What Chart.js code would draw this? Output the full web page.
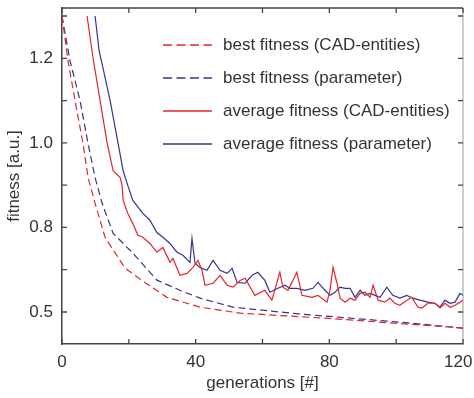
<!DOCTYPE html>
<html>
<head>
<meta charset="utf-8">
<script src="https://cdn.jsdelivr.net/npm/chart.js@4"></script>
<style>
  html, body { margin: 0; padding: 0; background: #fff; }
  #wrap { width: 474px; height: 398px; }
</style>
</head>
<body>
<div id="wrap"><canvas id="fitChart" width="474" height="398"></canvas></div>
<script>
// values (generation, fitness)
const bestCadGen = [0, 1.8, 3.9, 6.3, 7.8, 9.9, 12.9, 18.9, 24.8, 31.4, 41.3, 53.3, 80, 120];
const bestCadFit = [1.30, 1.194, 1.10, 0.998, 0.918, 0.857, 0.764, 0.655, 0.605, 0.552, 0.517, 0.496, 0.477, 0.443];

const bestParGen = [0, 2.4, 5.4, 7.8, 9.9, 12.0, 15.3, 21.2, 28.4, 35.3, 41.3, 51.2, 71, 101, 120];
const bestParFit = [1.30, 1.194, 1.10, 0.998, 0.918, 0.857, 0.779, 0.709, 0.613, 0.577, 0.549, 0.517, 0.493, 0.464, 0.443];

const avgCadGen = [7.5, 9.3, 11.4, 13.5, 15.3, 17.4, 18.0, 18.3, 19.7, 21.2, 22.7, 24.2, 26.3, 28.4, 30.2, 32.3,
  33.2, 35.3, 37.4, 39.2, 40.7, 41.9, 42.8, 45.2, 47.3, 49.4, 51.2, 53.3, 54.8, 57.7, 60.7, 62.8, 65.2, 66.1,
  67.6, 70.3, 71.8, 74.8, 76.6, 79.3, 80.2, 81.1, 82.3, 83.2, 84.7, 86.2, 87.7, 89.2, 90.7, 92.2, 93.1, 94.6,
  96.6, 98.1, 99.6, 101.1, 103.2, 104.7, 106.5, 107.7, 109.5, 111.6, 113.1, 114.6, 116.1, 117.6, 119.1, 120];
const avgCadFit = [1.30, 1.20, 1.10, 1.00, 0.934, 0.918, 0.899, 0.864, 0.833, 0.809, 0.772, 0.765, 0.743, 0.712, 0.729, 0.676,
  0.690, 0.630, 0.637, 0.658, 0.683, 0.648, 0.595, 0.602, 0.630, 0.595, 0.588, 0.612, 0.620, 0.559, 0.577, 0.542, 0.641, 0.588,
  0.577, 0.641, 0.559, 0.552, 0.559, 0.535, 0.577, 0.658, 0.602, 0.549, 0.535, 0.549, 0.542, 0.566, 0.570, 0.552, 0.595, 0.542,
  0.535, 0.549, 0.531, 0.524, 0.542, 0.552, 0.517, 0.514, 0.531, 0.531, 0.514, 0.531, 0.517, 0.524, 0.535, 0.542];

const avgParGen = [9.9, 11.1, 12.0, 14.4, 16.8, 18.3, 19.7, 21.2, 24.2, 26.3, 28.4, 30.2, 32.3, 34.4, 36.2, 37.7,
  38.3, 38.9, 39.8, 41.3, 43.4, 45.2, 47.3, 49.4, 50.9, 52.4, 54.8, 56.9, 58.6, 60.7, 62.2, 64.6, 66.7, 68.2,
  70.3, 72.7, 75.1, 76.6, 78.7, 80.2, 81.7, 83.2, 84.7, 86.2, 87.7, 89.2, 90.7, 92.2, 93.7, 95.2, 97.2, 99.0,
  101.1, 103.2, 105.0, 107.1, 109.5, 111.6, 113.1, 114.6, 116.1, 117.6, 119.1, 120];
const avgParFit = [1.30, 1.218, 1.187, 1.10, 0.998, 0.934, 0.899, 0.864, 0.833, 0.817, 0.782, 0.765, 0.743, 0.712, 0.701, 0.683,
  0.676, 0.761, 0.673, 0.658, 0.648, 0.683, 0.648, 0.637, 0.655, 0.605, 0.602, 0.630, 0.641, 0.612, 0.570, 0.584, 0.595, 0.584,
  0.584, 0.577, 0.584, 0.605, 0.577, 0.559, 0.570, 0.588, 0.584, 0.584, 0.552, 0.577, 0.559, 0.566, 0.559, 0.552, 0.588, 0.559,
  0.549, 0.559, 0.549, 0.542, 0.535, 0.531, 0.517, 0.542, 0.531, 0.535, 0.566, 0.559];

const seriesLabels = ['best fitness (CAD-entities)', 'best fitness (parameter)',
  'average fitness (CAD-entities)', 'average fitness (parameter)'];

const xTickValues = [0, 20, 40, 60, 80, 100, 120];
const xTickLabels = ['0', '', '40', '', '80', '', '120'];
const yTickValues = [1.3, 1.2, 1.1, 1.0, 0.9, 0.8, 0.65, 0.5];
const yTickLabels = ['', '1.2', '', '1.0', '', '0.8', '', '0.5'];

const RED = '#e8232b';
const BLUE = '#35358c';
const FONT = "'Liberation Sans', Arial, sans-serif";

// the paper's fitness axis is squeezed below 0.8 (0.8 -> 0.5 takes two tick steps)
function warp(v) { return v >= 0.8 ? v : 0.8 - (0.8 - v) * 2 / 3; }
function unwarp(u) { return u >= 0.8 ? u : 0.8 - (0.8 - u) * 1.5; }

class WarpScale extends Chart.LinearScale {
  configure() {
    super.configure();
    this._startValue = warp(this.min);
    this._valueRange = warp(this.max) - warp(this.min);
  }
  getPixelForValue(v) { return super.getPixelForValue(v == null ? v : warp(v)); }
  getValueForPixel(p) { return unwarp(super.getValueForPixel(p)); }
}
WarpScale.id = 'warp';
WarpScale.defaults = Chart.LinearScale.defaults;
Chart.register(WarpScale);

function pts(gen, fit) { return gen.map((g, i) => ({x: g, y: fit[i]})); }

// top/right frame plus inward tick marks on all four sides
const framePlugin = {
  id: 'frame',
  beforeDatasetsDraw(chart) {
    const {ctx, chartArea: a, scales: {x, y}} = chart;
    ctx.save();
    ctx.lineWidth = 1.5;
    ctx.strokeStyle = '#bdbdbd';
    ctx.beginPath(); ctx.moveTo(a.right, a.top); ctx.lineTo(a.right, a.bottom); ctx.stroke();
    ctx.strokeStyle = '#444';
    ctx.beginPath(); ctx.moveTo(a.left, a.top); ctx.lineTo(a.right, a.top); ctx.stroke();
    ctx.lineWidth = 1.3;
    ctx.beginPath();
    xTickValues.forEach(v => {
      const px = x.getPixelForValue(v);
      ctx.moveTo(px, a.bottom); ctx.lineTo(px, a.bottom - 5);
      ctx.moveTo(px, a.top); ctx.lineTo(px, a.top + 5);
    });
    yTickValues.forEach(v => {
      const py = y.getPixelForValue(v);
      ctx.moveTo(a.left, py); ctx.lineTo(a.left + 5, py);
      ctx.moveTo(a.right, py); ctx.lineTo(a.right - 5, py);
    });
    ctx.stroke();
    ctx.restore();
  }
};

// legend sitting inside the plot, top right
const legendPlugin = {
  id: 'innerLegend',
  afterDatasetsDraw(chart) {
    const {ctx, chartArea: a} = chart;
    ctx.save();
    ctx.font = '17px ' + FONT;
    ctx.textBaseline = 'middle';
    ctx.fillStyle = '#333';
    chart.data.datasets.forEach((ds, i) => {
      const yy = a.top + 37 + i * 33;
      const x0 = a.left + 101;
      ctx.strokeStyle = ds.borderColor;
      ctx.lineWidth = 1.4;
      ctx.setLineDash(ds.borderDash ? [9, 4.5] : []);
      ctx.beginPath(); ctx.moveTo(x0, yy); ctx.lineTo(x0 + 49, yy); ctx.stroke();
      ctx.setLineDash([]);
      ctx.fillText(ds.label, x0 + 60, yy);
    });
    ctx.restore();
  }
};

const ctx = document.getElementById('fitChart').getContext('2d');
const chart = new Chart(ctx, {
  type: 'line',
  data: {
    datasets: [
      {label: seriesLabels[0], data: pts(bestCadGen, bestCadFit), borderColor: RED, borderDash: [7, 4]},
      {label: seriesLabels[1], data: pts(bestParGen, bestParFit), borderColor: BLUE, borderDash: [7, 4]},
      {label: seriesLabels[2], data: pts(avgCadGen, avgCadFit), borderColor: RED},
      {label: seriesLabels[3], data: pts(avgParGen, avgParFit), borderColor: BLUE}
    ]
  },
  options: {
    responsive: false,
    animation: false,
    events: [],
    elements: {
      line: {borderWidth: 1.2, tension: 0, fill: false},
      point: {radius: 0}
    },
    layout: {padding: {top: 8, right: 11, left: 0, bottom: 0}},
    plugins: {
      legend: {display: false},
      tooltip: {enabled: false}
    },
    scales: {
      x: {
        type: 'linear',
        min: 0, max: 120,
        grid: {display: false, drawTicks: false},
        border: {display: true, color: '#444', width: 1.5},
        ticks: {
          stepSize: 20,
          padding: 8,
          color: '#333',
          font: {family: FONT, size: 17},
          callback: (v) => {
            const i = xTickValues.indexOf(v);
            if (i < 0) return '';
            // last label sits a little inside the right edge, as in the figure
            return i === xTickValues.length - 1 ? xTickLabels[i] + '\u2007' : xTickLabels[i];
          }
        },
        title: {display: true, text: 'generations [#]', color: '#333', font: {family: FONT, size: 17}, padding: {top: 0}},
        afterFit: (s) => { s.height = 54; s.paddingLeft = 0; s.paddingRight = 0; }
      },
      y: {
        type: 'warp',
        min: unwarp(0.5243),
        max: 1.3189,
        grid: {display: false, drawTicks: false},
        border: {display: true, color: '#444', width: 1.5},
        ticks: {
          padding: 9,
          color: '#333',
          font: {family: FONT, size: 17},
          callback: (v) => { const i = yTickValues.findIndex(t => Math.abs(t - v) < 1e-6); return i < 0 ? '' : yTickLabels[i]; }
        },
        afterBuildTicks: (s) => { s.ticks = yTickValues.map(v => ({value: v})); },
        title: {display: true, text: 'fitness [a.u.]', color: '#333', font: {family: FONT, size: 17}, padding: {bottom: 0}},
        afterFit: (s) => { s.width = 62; s.paddingTop = 0; s.paddingBottom = 0; }
      }
    }
  },
  plugins: [framePlugin, legendPlugin]
});
</script>
</body>
</html>
